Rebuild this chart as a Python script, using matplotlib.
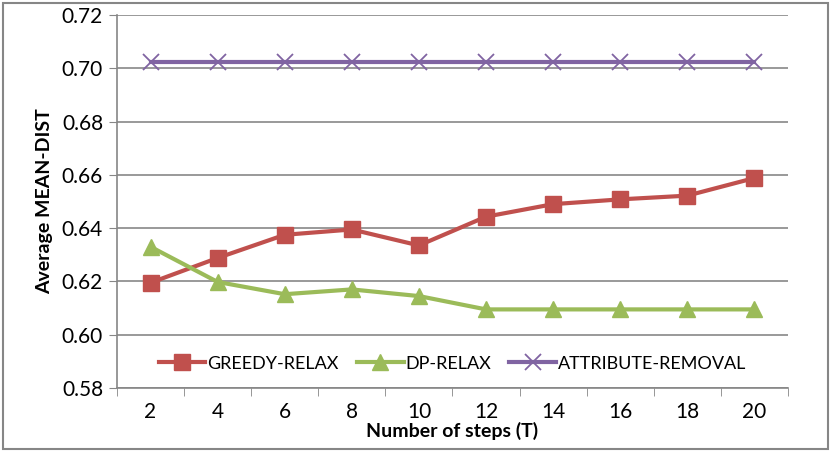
import numpy as np
import matplotlib.pyplot as plt
from matplotlib.patches import Rectangle

# data
steps = [2, 4, 6, 8, 10, 12, 14, 16, 18, 20]
greedy = [0.6195, 0.6288, 0.6375, 0.6395, 0.6335, 0.6443, 0.6490, 0.6508, 0.6522, 0.6588]
dp = [0.6330, 0.6198, 0.6152, 0.6170, 0.6145, 0.6095, 0.6095, 0.6095, 0.6095, 0.6095]
attr = [0.7025] * 10

plt.rcParams['font.family'] = ['Lato', 'DejaVu Sans']

fig = plt.figure(figsize=(8.32, 4.53), dpi=100)
ax = fig.add_axes([0.1406, 0.1435, 0.8065, 0.8234])

x = np.arange(len(steps))
ax.plot(x, greedy, color='#C0504D', lw=3, marker='s', ms=11, label='GREEDY-RELAX')
ax.plot(x, dp, color='#9BBB59', lw=3, marker='^', ms=12, label='DP-RELAX')
ax.plot(x, attr, color='#8064A2', lw=3, marker='x', ms=11, mew=1.3, label='ATTRIBUTE-REMOVAL')

ax.set_xlim(-0.5, len(steps) - 0.5)
ax.set_ylim(0.58, 0.72)
ax.set_yticks(np.arange(0.58, 0.7201, 0.02))
ax.set_yticklabels(['%.2f' % v for v in np.arange(0.58, 0.7201, 0.02)])
ax.set_xticks(x)
ax.set_xticklabels([str(s) for s in steps])
ax.set_xticks(np.arange(-0.5, len(steps)), minor=True)
ax.tick_params(axis='x', which='major', length=0, pad=10, labelsize=15)
ax.tick_params(axis='x', which='minor', length=6, color='#868686', direction='out')
ax.tick_params(axis='y', length=6, color='#868686', labelsize=15, pad=4)
ax.grid(axis='y', color='#878787', lw=1.2)
ax.set_axisbelow(True)
for s in ['top', 'right']:
    ax.spines[s].set_visible(False)
ax.spines['left'].set_color('#868686')
ax.spines['bottom'].set_color('#868686')
ax.spines['left'].set_linewidth(1.2)
ax.spines['bottom'].set_linewidth(1.2)

ax.set_ylabel('Average MEAN-DIST', fontsize=14, fontweight='bold', labelpad=6)
ax.set_xlabel('Number of steps (T)', fontsize=14, fontweight='bold', labelpad=0)

ax.legend(loc='lower center', bbox_to_anchor=(0.5, 0.0), ncol=3, frameon=False,
          fontsize=13, handlelength=2.6, handletextpad=0.1, columnspacing=1.0)

fig.patches.append(Rectangle((0.004, 0.009), 0.991, 0.985, transform=fig.transFigure,
                             fill=False, edgecolor='#868686', lw=1.5))

fig.savefig('out.png', dpi=100)
